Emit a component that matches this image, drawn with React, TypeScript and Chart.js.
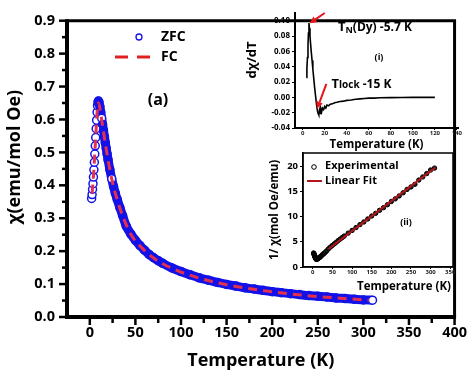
import React, { useEffect, useRef } from 'react';
import { Chart, registerables } from 'chart.js';

Chart.register(...registerables);

const FONT = "'Open Sans', 'DejaVu Sans', sans-serif";

// ---------- Main panel (a): chi vs T ----------
const zfcT = [2, 2.5, 3, 3.5, 4, 4.5, 5, 5.5, 6, 6.5, 7, 7.5, 8, 8.5, 9, 9.5, 10, 11, 12, 13, 14, 15, 16, 17, 18, 19, 20, 22, 24, 26, 28, 30, 33, 36, 40, 45, 50, 55, 60, 65, 70, 75, 80, 90, 100, 110, 120, 130, 140, 150, 160, 170, 180, 190, 200, 210, 220, 230, 240, 250, 260, 270, 280, 290, 300, 310];
const zfcChi = [0.360, 0.372, 0.388, 0.405, 0.425, 0.447, 0.470, 0.495, 0.520, 0.545, 0.572, 0.598, 0.622, 0.642, 0.652, 0.656, 0.653, 0.640, 0.622, 0.604, 0.585, 0.567, 0.548, 0.530, 0.512, 0.495, 0.478, 0.448, 0.420, 0.397, 0.376, 0.358, 0.332, 0.308, 0.276, 0.252, 0.233, 0.217, 0.203, 0.190, 0.180, 0.171, 0.163, 0.149, 0.138, 0.128, 0.119, 0.112, 0.105, 0.099, 0.094, 0.089, 0.085, 0.081, 0.077, 0.074, 0.071, 0.068, 0.065, 0.063, 0.061, 0.058, 0.056, 0.054, 0.052, 0.051];
const zfcOpenT = [2, 2.5, 3, 3.5, 4, 4.5, 5, 5.5, 6, 6.5, 7, 7.5, 8, 8.5, 13, 24, 310];

const fcT = [2.5, 4, 5.5, 7, 8.5, 9.5, 11, 13, 15, 18, 22, 26, 30, 36, 45, 55, 70, 90, 120, 150, 180, 220, 260, 306];
const fcChi = [0.375, 0.428, 0.497, 0.573, 0.640, 0.650, 0.636, 0.600, 0.563, 0.510, 0.447, 0.396, 0.357, 0.307, 0.251, 0.216, 0.179, 0.148, 0.118, 0.098, 0.084, 0.070, 0.060, 0.051];

const mainXTicks = [0, 50, 100, 150, 200, 250, 300, 350, 400];
const mainYTicks = [0, 0.1, 0.2, 0.3, 0.4, 0.5, 0.6, 0.7, 0.8, 0.9];

// ---------- Inset (i): dchi/dT ----------
const derivT = [3.3, 3.8, 4.3, 4.8, 5.2, 5.7, 6.1, 6.6, 7.2, 7.8, 8.5, 9.2, 10, 10.8, 11.5, 12.2, 12.8, 13.4, 14, 14.6, 15.2, 15.8, 16.5, 17.2, 18, 19, 20, 21, 22, 23.5, 25, 27, 29, 31, 34, 37, 40, 44, 48, 52, 56, 60, 65, 70, 80, 90, 100, 110, 120];
const derivVal = [0.026, 0.038, 0.052, 0.068, 0.084, 0.097, 0.090, 0.080, 0.069, 0.059, 0.048, 0.037, 0.025, 0.013, 0.004, -0.005, -0.012, -0.018, -0.021, -0.023, -0.017, -0.021, -0.015, -0.019, -0.014, -0.016, -0.012, -0.014, -0.010, -0.011, -0.009, -0.0085, -0.007, -0.0065, -0.0055, -0.005, -0.004, -0.0035, -0.0025, -0.002, -0.0015, -0.001, -0.001, -0.0005, -0.0004, -0.0002, -0.0001, 0, 0];
const insetAXTicks = [0, 20, 40, 60, 80, 100, 120, 140];
const insetAYTicks = [-0.04, -0.02, 0, 0.02, 0.04, 0.06, 0.08, 0.1];
const arrowTails = [{ x: 20, y: 0.110 }, { x: 21.5, y: 0.0175 }];
const arrowTips = [{ x: 6.3, y: 0.0965 }, { x: 13, y: -0.015 }];

// ---------- Inset (ii): 1/chi vs T ----------
const fitT = [40, 312];
const fitInv = [3.57, 19.72];
const insetBXTicks = [0, 50, 100, 150, 200, 250, 300, 350];
const insetBYTicks = [0, 5, 10, 15, 20];

const BLUE = '#1212e8';
const RED = '#e2304e';

function rotText(ctx: any, text: string, x: number, y: number, font: string) {
  ctx.save();
  ctx.translate(x, y);
  ctx.rotate(-Math.PI / 2);
  ctx.font = font;
  ctx.fillStyle = '#000';
  ctx.textAlign = 'center';
  ctx.textBaseline = 'middle';
  ctx.fillText(text, 0, 0);
  ctx.restore();
}

function runs(ctx: any, x: number, base: number, parts: [string, number, number][]) {
  ctx.textAlign = 'left';
  ctx.textBaseline = 'alphabetic';
  ctx.fillStyle = '#000';
  let cx = x;
  parts.forEach(([t, size, dy]) => {
    ctx.font = `bold ${size}px ${FONT}`;
    ctx.fillText(t, cx, base + dy);
    cx += ctx.measureText(t).width;
  });
}

function line(ctx: any, x1: number, y1: number, x2: number, y2: number) {
  ctx.beginPath();
  ctx.moveTo(x1, y1);
  ctx.lineTo(x2, y2);
  ctx.stroke();
}

function arrow(ctx: any, x1: number, y1: number, x2: number, y2: number) {
  const ang = Math.atan2(y2 - y1, x2 - x1);
  const hl = 7, hw = 3.5;
  const bx = x2 - hl * Math.cos(ang), by = y2 - hl * Math.sin(ang);
  line(ctx, x1, y1, bx, by);
  ctx.beginPath();
  ctx.moveTo(x2, y2);
  ctx.lineTo(bx + hw * Math.sin(ang), by - hw * Math.cos(ang));
  ctx.lineTo(bx - hw * Math.sin(ang), by + hw * Math.cos(ang));
  ctx.closePath();
  ctx.fill();
}

const mainDecor = {
  id: 'mainDecor',
  afterDraw(chart: any) {
    const { ctx, chartArea: a } = chart;
    const xs = chart.scales.x, ys = chart.scales.y;
    ctx.save();
    ctx.strokeStyle = '#000';
    ctx.lineWidth = 2.5;
    mainXTicks.forEach((v, i) => {
      const px = xs.getPixelForValue(v);
      line(ctx, px, a.bottom, px, a.bottom + 8);
      if (i < mainXTicks.length - 1) {
        const m = xs.getPixelForValue((v + mainXTicks[i + 1]) / 2);
        line(ctx, m, a.bottom, m, a.bottom + 6);
      }
    });
    mainYTicks.forEach((v, i) => {
      const py = ys.getPixelForValue(v);
      line(ctx, a.left, py, a.left - 8, py);
      if (i < mainYTicks.length - 1) {
        const m = ys.getPixelForValue((v + mainYTicks[i + 1]) / 2);
        line(ctx, a.left, m, a.left - 5, m);
      }
    });
    // frame
    ctx.lineWidth = 3;
    line(ctx, a.left, a.top, a.right + 1.5, a.top);
    line(ctx, a.right, a.top, a.right, a.bottom);
    ctx.lineWidth = 4;
    line(ctx, a.left, a.top - 1.5, a.left, a.bottom + 2);
    line(ctx, a.left - 2, a.bottom, a.right + 1.5, a.bottom);

    // axis title (y)
    rotText(ctx, 'χ(emu/mol Oe)', 15, 157, `bold 18px ${FONT}`);

    // legend
    ctx.lineWidth = 1.3;
    ctx.strokeStyle = BLUE;
    ctx.fillStyle = '#fff';
    ctx.beginPath();
    ctx.arc(139, 37, 3, 0, Math.PI * 2);
    ctx.fill();
    ctx.stroke();
    ctx.strokeStyle = '#e02020';
    ctx.lineWidth = 3;
    line(ctx, 115, 57, 128, 57);
    line(ctx, 137, 57, 150, 57);
    ctx.fillStyle = '#000';
    ctx.font = `bold 14px ${FONT}`;
    ctx.textAlign = 'left';
    ctx.textBaseline = 'middle';
    ctx.fillText('ZFC', 161, 37);
    ctx.fillText('FC', 161, 57);
    ctx.font = `bold 16px ${FONT}`;
    ctx.textAlign = 'center';
    ctx.fillText('(a)', 158, 100);
    ctx.restore();
  },
};

const insetADecor = {
  id: 'insetADecor',
  afterDraw(chart: any) {
    const { ctx } = chart;
    const xs = chart.scales.x, ys = chart.scales.y;
    ctx.save();
    rotText(ctx, 'dχ/dT', 22, 60, `bold 13px ${FONT}`);
    runs(ctx, 108, 31, [['T', 13, 0], ['N', 9, 2], ['(Dy)', 12, 0], [' -5.7 K', 12, 0]]);
    runs(ctx, 101.5, 87.5, [['T', 13, 0], ['lock', 10, 0], [' -15 K', 12, 0]]);
    ctx.font = `bold 9px ${FONT}`;
    ctx.textAlign = 'center';
    ctx.textBaseline = 'middle';
    ctx.fillText('(i)', 149, 57);
    ctx.strokeStyle = '#e8141c';
    ctx.fillStyle = '#e8141c';
    ctx.lineWidth = 2;
    arrowTails.forEach((t, i) => {
      const p = arrowTips[i];
      arrow(ctx, xs.getPixelForValue(t.x), ys.getPixelForValue(t.y), xs.getPixelForValue(p.x), ys.getPixelForValue(p.y));
    });
    ctx.restore();
  },
};

const insetBDecor = {
  id: 'insetBDecor',
  afterDraw(chart: any) {
    const { ctx, chartArea: a } = chart;
    ctx.save();
    ctx.strokeStyle = '#000';
    ctx.lineWidth = 1.5;
    ctx.strokeRect(a.left, a.top, a.right - a.left, a.bottom - a.top);
    rotText(ctx, '1/ χ(mol Oe/emu)', 45, 70, `bold 11.5px ${FONT}`);
    ctx.font = `bold 11.5px ${FONT}`;
    ctx.textAlign = 'center';
    ctx.textBaseline = 'middle';
    ctx.fillStyle = '#000';
    ctx.fillText('Temperature (K)', 174, 147);
    // legend
    ctx.lineWidth = 1;
    ctx.fillStyle = '#fff';
    ctx.beginPath();
    ctx.arc(84, 27, 2.3, 0, Math.PI * 2);
    ctx.fill();
    ctx.stroke();
    ctx.strokeStyle = '#b3151b';
    ctx.lineWidth = 2;
    line(ctx, 77, 41, 92, 41);
    ctx.fillStyle = '#000';
    ctx.font = `bold 11px ${FONT}`;
    ctx.textAlign = 'left';
    ctx.fillText('Experimental', 95, 26);
    ctx.fillText('Linear Fit', 95, 41);
    ctx.font = `bold 9px ${FONT}`;
    ctx.textAlign = 'center';
    ctx.fillText('(ii)', 176, 82);
    ctx.restore();
  },
};

export default function App() {
  const mainRef = useRef<HTMLCanvasElement>(null);
  const aRef = useRef<HTMLCanvasElement>(null);
  const bRef = useRef<HTMLCanvasElement>(null);

  useEffect(() => {
    document.body.style.margin = '0';
    const charts: any[] = [];

    charts.push(new Chart(mainRef.current as any, {
      type: 'line',
      data: {
        datasets: [
          {
            label: 'ZFC',
            data: zfcT.map((t, i) => ({ x: t, y: zfcChi[i] })),
            borderColor: BLUE,
            borderWidth: 9,
            order: 2,
            cubicInterpolationMode: 'monotone',
            pointRadius: 4,
            pointBorderWidth: 1.5,
            pointBorderColor: BLUE,
            pointBackgroundColor: (ctx: any) => (zfcOpenT.includes(zfcT[ctx.dataIndex]) ? '#ffffff' : BLUE),
            segment: {
              borderColor: (ctx: any) => (ctx.p1.parsed.x <= 9 ? 'rgba(0,0,0,0)' : BLUE),
            },
          } as any,
          {
            label: 'FC',
            data: fcT.map((t, i) => ({ x: t, y: fcChi[i] })),
            borderColor: RED,
            borderWidth: 3,
            borderDash: [9, 6],
            cubicInterpolationMode: 'monotone',
            pointRadius: 0,
            order: 1,
          } as any,
        ],
      },
      options: {
        animation: false,
        responsive: false,
        layout: { padding: { left: 0, top: 12, right: 14, bottom: 0 } },
        plugins: { legend: { display: false }, tooltip: { enabled: false } },
        scales: {
          x: {
            type: 'linear',
            min: -25,
            max: 400,
            afterBuildTicks: (s: any) => { s.ticks = mainXTicks.map((v) => ({ value: v })); },
            afterFit: (s: any) => { s.height = 58; },
            grid: { display: false, drawTicks: false },
            border: { display: false },
            ticks: { font: { family: FONT, size: 14.5, weight: 'bold' }, color: '#000', padding: 7, maxRotation: 0, autoSkip: false },
            title: { display: true, text: 'Temperature (K)', color: '#000', font: { family: FONT, size: 18, weight: 'bold' }, padding: { top: 0, bottom: 3 } },
          },
          y: {
            type: 'linear',
            min: 0,
            max: 0.9,
            afterBuildTicks: (s: any) => { s.ticks = mainYTicks.map((v) => ({ value: v })); },
            afterFit: (s: any) => { s.width = 67; },
            grid: { display: false, drawTicks: false },
            border: { display: false },
            ticks: { font: { family: FONT, size: 14.5, weight: 'bold' }, color: '#000', padding: 12, callback: (v: any) => Number(v).toFixed(1) },
          },
        },
      } as any,
      plugins: [mainDecor],
    }));

    charts.push(new Chart(aRef.current as any, {
      type: 'line',
      data: {
        datasets: [{
          data: derivT.map((t, i) => ({ x: t, y: derivVal[i] })),
          borderColor: '#000',
          borderWidth: 1.6,
          pointRadius: 0,
          tension: 0,
        } as any],
      },
      options: {
        animation: false,
        responsive: false,
        layout: { padding: { left: 0, top: 13, right: 16, bottom: 0 } },
        plugins: { legend: { display: false }, tooltip: { enabled: false } },
        scales: {
          x: {
            type: 'linear',
            min: -7,
            max: 141,
            afterBuildTicks: (s: any) => { s.ticks = insetAXTicks.map((v) => ({ value: v })); },
            afterFit: (s: any) => { s.height = 27; },
            grid: { display: true, drawOnChartArea: false, drawTicks: true, tickLength: 2, color: '#000' },
            border: { display: true, color: '#000', width: 2 },
            ticks: { font: { family: FONT, size: 6, weight: 'bold' }, color: '#222', padding: 0, maxRotation: 0, autoSkip: false },
            title: { display: true, text: 'Temperature (K)', color: '#000', font: { family: FONT, size: 11.5, weight: 'bold' }, padding: { top: 0, bottom: 3 } },
          },
          y: {
            type: 'linear',
            min: -0.04,
            max: 0.11,
            afterBuildTicks: (s: any) => { s.ticks = insetAYTicks.map((v) => ({ value: v })); },
            afterFit: (s: any) => { s.width = 65; },
            grid: { display: true, drawOnChartArea: false, drawTicks: true, tickLength: 3, color: '#000' },
            border: { display: true, color: '#000', width: 2 },
            ticks: { font: { family: FONT, size: 8, weight: 'bold' }, color: '#000', padding: 2, callback: (v: any) => Number(v).toFixed(2) },
          },
        },
      } as any,
      plugins: [insetADecor],
    }));

    charts.push(new Chart(bRef.current as any, {
      type: 'line',
      data: {
        datasets: [
          {
            label: 'Experimental',
            data: zfcT.map((t, i) => ({ x: t, y: 1 / zfcChi[i] })),
            showLine: false,
            pointRadius: 2.2,
            pointBorderWidth: 1,
            pointBorderColor: '#000',
            pointBackgroundColor: '#222',
            order: 2,
          } as any,
          {
            label: 'Linear Fit',
            data: fitT.map((t, i) => ({ x: t, y: fitInv[i] })),
            borderColor: '#b3151b',
            borderWidth: 2,
            pointRadius: 0,
            order: 1,
          } as any,
        ],
      },
      options: {
        animation: false,
        responsive: false,
        layout: { padding: { left: 0, top: 13, right: 21, bottom: 0 } },
        plugins: { legend: { display: false }, tooltip: { enabled: false } },
        scales: {
          x: {
            type: 'linear',
            min: -25,
            max: 357,
            afterBuildTicks: (s: any) => { s.ticks = insetBXTicks.map((v) => ({ value: v })); },
            afterFit: (s: any) => { s.height = 33; },
            grid: { display: true, drawOnChartArea: false, drawTicks: true, tickLength: 2, color: '#000' },
            border: { display: true, color: '#000', width: 1.5 },
            ticks: { font: { family: FONT, size: 6, weight: 'bold' }, color: '#222', padding: 0, maxRotation: 0, autoSkip: false },
          },
          y: {
            type: 'linear',
            min: 0,
            max: 22.6,
            afterBuildTicks: (s: any) => { s.ticks = insetBYTicks.map((v) => ({ value: v })); },
            afterFit: (s: any) => { s.width = 73; },
            grid: { display: true, drawOnChartArea: false, drawTicks: true, tickLength: 3, color: '#000' },
            border: { display: true, color: '#000', width: 1.5 },
            ticks: { font: { family: FONT, size: 9.5, weight: 'bold' }, color: '#000', padding: 2 },
          },
        },
      } as any,
      plugins: [insetBDecor],
    }));

    return () => charts.forEach((c) => c.destroy());
  }, []);

  return (
    <div style={{ position: 'relative', width: 474, height: 375, background: '#fff' }}>
      <canvas ref={mainRef} width={474} height={375} style={{ position: 'absolute', left: 0, top: 0 }} />
      <canvas ref={aRef} width={244} height={155} style={{ position: 'absolute', left: 230, top: 0 }} />
      <canvas ref={bRef} width={244} height={160} style={{ position: 'absolute', left: 230, top: 140 }} />
    </div>
  );
}
